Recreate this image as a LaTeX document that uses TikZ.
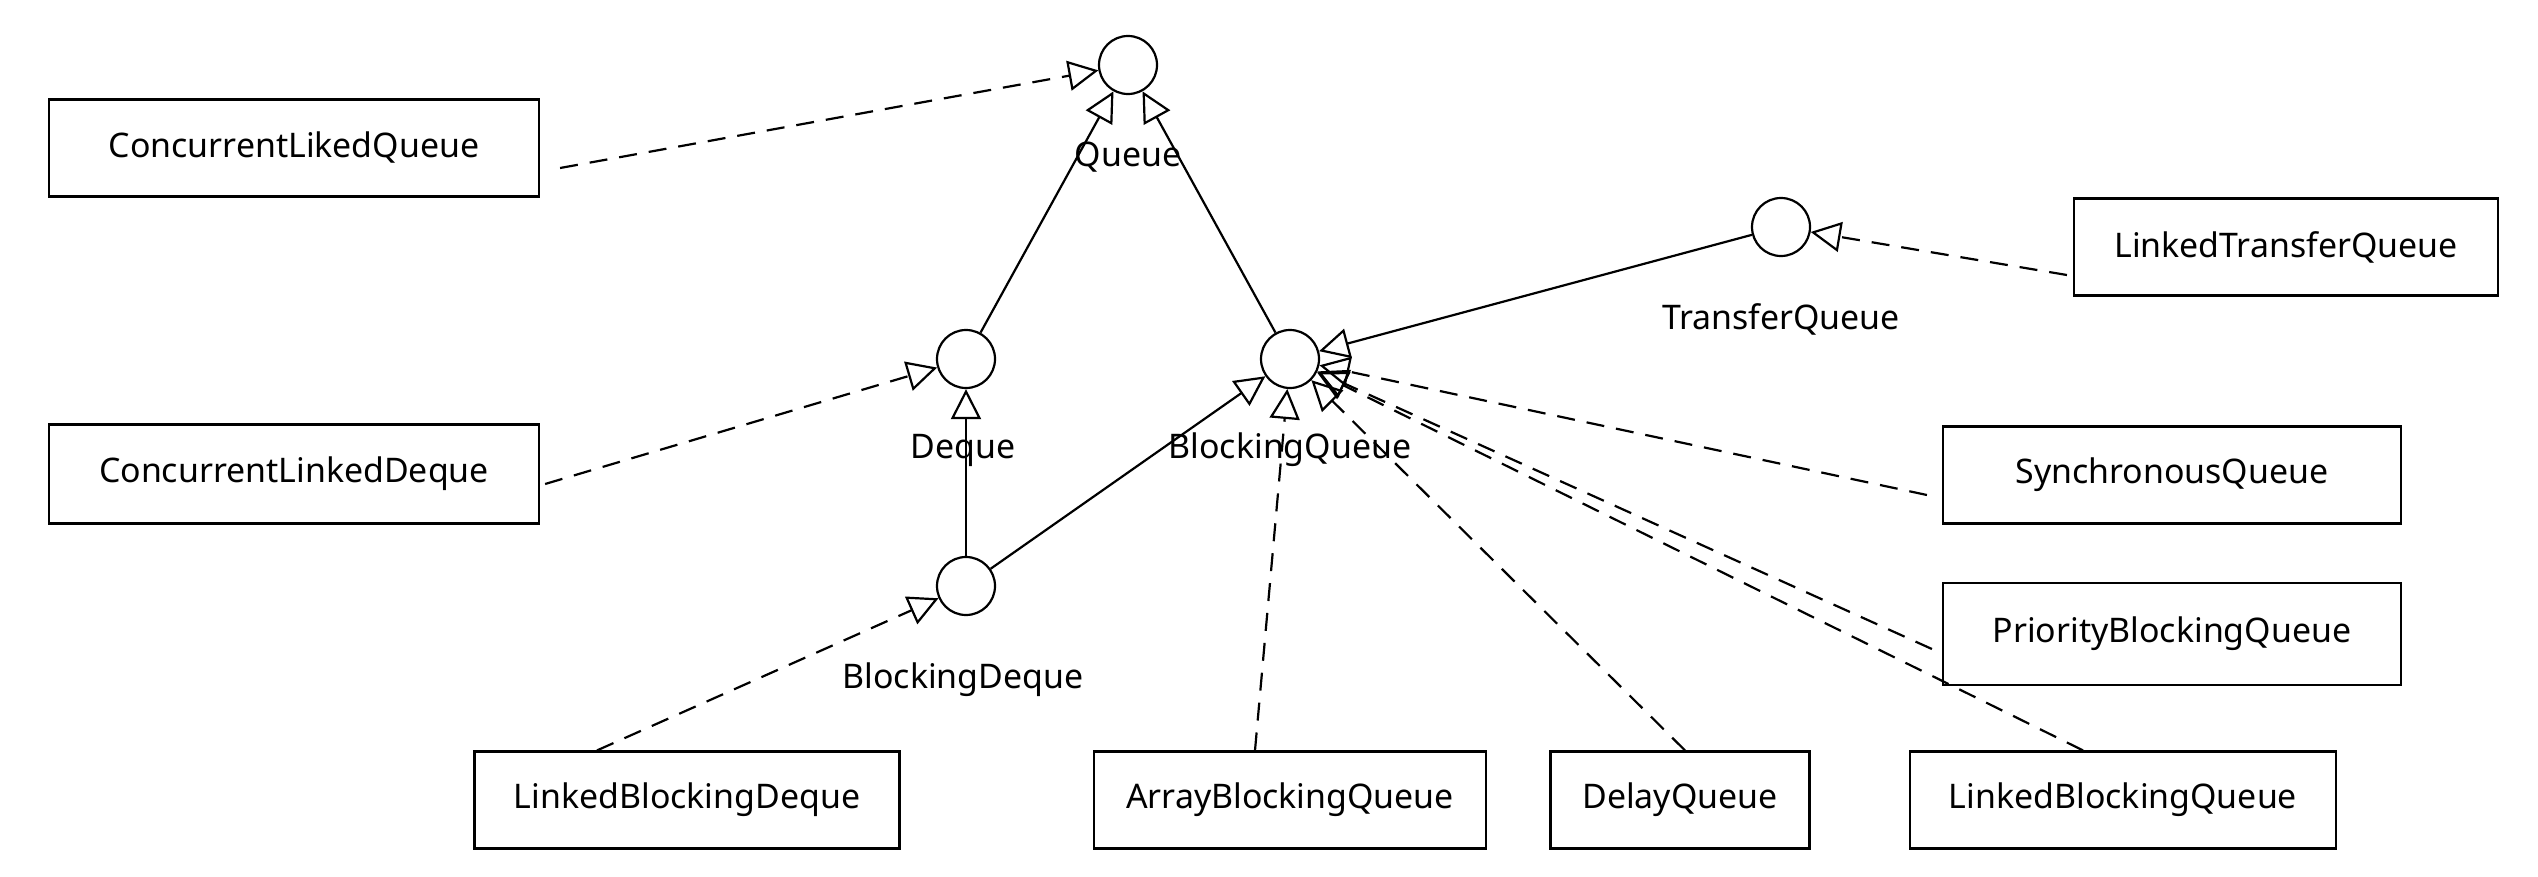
\documentclass[tikz,border=0pt]{standalone}
\usepackage{fontspec}
\setmainfont{Noto Sans}
\usetikzlibrary{arrows.meta}
\begin{document}
\begin{tikzpicture}[x=1bp,y=-1bp,line width=2.2bp,
  box/.style={draw,rectangle,inner sep=0,font=\fontsize{34}{40}\selectfont},
  ifc/.style={draw,circle,minimum size=58bp,inner sep=0},
  lbl/.style={font=\fontsize{34}{40}\selectfont},
  gen/.style={-{Triangle[open,length=30bp,width=30bp]}},
  real/.style={gen,dash pattern=on 18bp off 12bp}]
\useasboundingbox (0,0) rectangle (2538,876);
\node[ifc] (q) at (1128,65) {};
\node[ifc] (d) at (966,359) {};
\node[ifc] (bq) at (1290,359) {};
\node[ifc] (bd) at (966,586) {};
\node[ifc] (tq) at (1781,227) {};
\node[lbl] (ql) at (1128,157) {Queue};
\node[lbl] (dl) at (963,450) {Deque};
\node[lbl] (bql) at (1290,450) {BlockingQueue};
\node[lbl] (bdl) at (963,680) {BlockingDeque};
\node[lbl] (tql) at (1781,319) {TransferQueue};
\node[box,minimum width=490bp,minimum height=97bp] (clq) at (294,148) {ConcurrentLikedQueue};
\node[box,minimum width=490bp,minimum height=99bp] (cld) at (294,474) {ConcurrentLinkedDeque};
\node[box,minimum width=424bp,minimum height=97bp] (ltq) at (2286,247) {LinkedTransferQueue};
\node[box,minimum width=458bp,minimum height=97bp] (sq) at (2172,475) {SynchronousQueue};
\node[box,minimum width=458bp,minimum height=102bp] (pbq) at (2172,634) {PriorityBlockingQueue};
\node[box,minimum width=425bp,minimum height=97bp] (lbd) at (687,800) {LinkedBlockingDeque};
\node[box,minimum width=392bp,minimum height=97bp] (abq) at (1290,800) {ArrayBlockingQueue};
\node[box,minimum width=259bp,minimum height=97bp] (dq) at (1680,800) {DelayQueue};
\node[box,minimum width=426bp,minimum height=97bp] (lbq) at (2123,800) {LinkedBlockingQueue};
% generalizations
\draw[gen] (d) -- (q);
\draw[gen] (bq) -- (q);
\draw[gen] (bd) -- (d);
\draw[gen] (bd) -- (bq);
\draw[gen] (tq) -- (bq);
% realizations
\draw[real] ([xshift=20bp,yshift=-20bp]clq.east) -- (q);
\draw[real] ([xshift=5bp,yshift=-10bp]cld.east) -- (d);
\draw[real] ([xshift=-6bp,yshift=-28bp]ltq.west) -- (tq);
\draw[real] ([xshift=-15bp,yshift=-20bp]sq.west) -- (bq);
\draw[real] ([xshift=-10bp,yshift=-15bp]pbq.west) -- (bq);
\draw[real] ([xshift=-40bp]lbq.north) -- (bq);
\draw[real] ([xshift=5bp]dq.north) -- (bq);
\draw[real] ([xshift=-35bp]abq.north) -- (bq);
\draw[real] ([xshift=-90bp]lbd.north) -- (bd);
\end{tikzpicture}
\end{document}
